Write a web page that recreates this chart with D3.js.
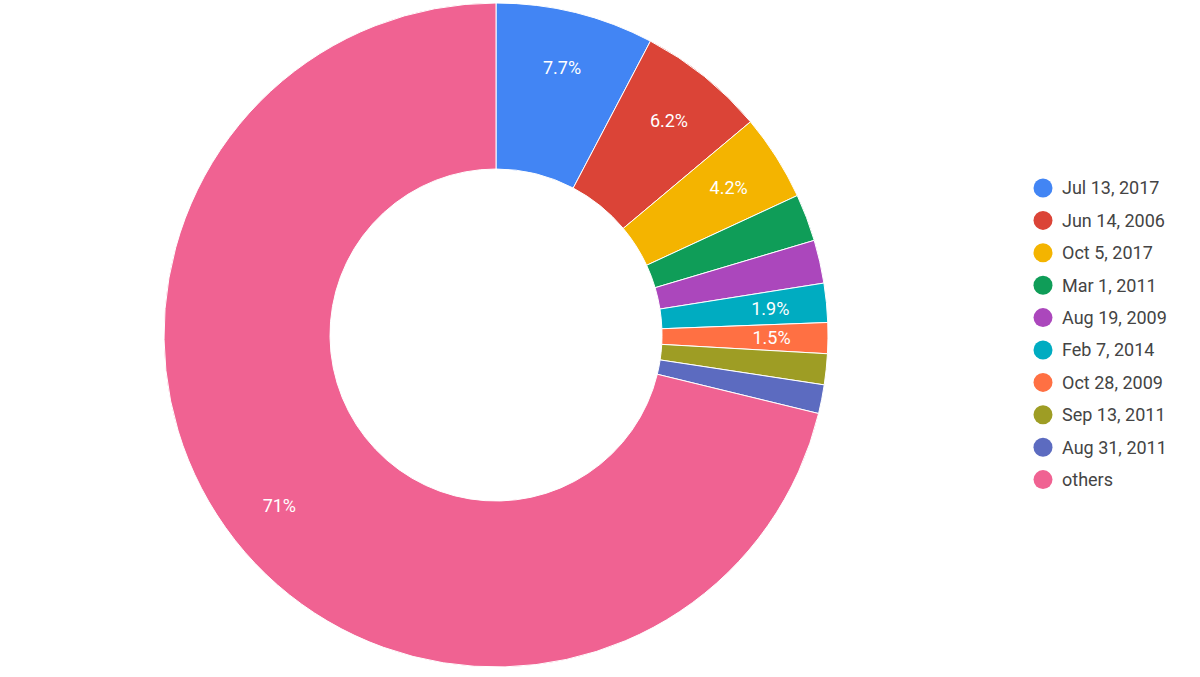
<!DOCTYPE html>
<html>
<head>
<meta charset="utf-8">
<script src="https://d3js.org/d3.v7.min.js"></script>
<style>
body{margin:0;background:#fff;font-family:Roboto,"Noto Sans",sans-serif;}
</style>
</head>
<body>
<div id="chart"></div>
<script>
var categories = ['Jul 13, 2017','Jun 14, 2006','Oct 5, 2017','Mar 1, 2011','Aug 19, 2009','Feb 7, 2014','Oct 28, 2009','Sep 13, 2011','Aug 31, 2011','others'];
var values = [7.7, 6.2, 4.2, 2.3, 2.1, 1.9, 1.5, 1.5, 1.4, 71.2];
var labels = ['7.7%','6.2%','4.2%','','','1.9%','1.5%','','','71%'];
var colors = ['#4285f4','#db4437','#f4b400','#0f9d58','#ab47bc','#00acc1','#ff7043','#9e9d24','#5c6bc0','#f06292'];

var w = 1200, h = 677;
var cx = 496, cy = 335, outerR = 332, innerR = 166;

var svg = d3.select('#chart').append('svg').attr('width', w).attr('height', h);
var g = svg.append('g').attr('transform', 'translate(' + cx + ',' + cy + ')');

var pie = d3.pie().value(function(d){ return d; }).sort(null);
var arc = d3.arc().innerRadius(innerR).outerRadius(outerR);
var labelArc = d3.arc().innerRadius(outerR * 0.83).outerRadius(outerR * 0.83);

var arcs = pie(values);
g.selectAll('path').data(arcs).enter().append('path')
  .attr('d', arc)
  .style('fill', function(d, i){ return colors[i]; })
  .style('stroke', '#fff')
  .style('stroke-width', 1);

g.selectAll('text').data(arcs).enter().append('text')
  .attr('transform', function(d){ return 'translate(' + labelArc.centroid(d) + ')'; })
  .attr('dy', '0.35em')
  .style('text-anchor', 'middle')
  .style('fill', '#fff')
  .style('font-size', '18px')
  .text(function(d, i){ return labels[i]; });

var legend = svg.append('g').attr('transform', 'translate(1043,188)');
var item = legend.selectAll('g').data(categories).enter().append('g')
  .attr('transform', function(d, i){ return 'translate(0,' + (i * 32.4) + ')'; });
item.append('circle').attr('r', 9.5).style('fill', function(d, i){ return colors[i]; });
item.append('text').attr('x', 19).attr('dy', '0.35em')
  .style('font-size', '18px').style('fill', '#444')
  .text(function(d){ return d; });
</script>
</body>
</html>
